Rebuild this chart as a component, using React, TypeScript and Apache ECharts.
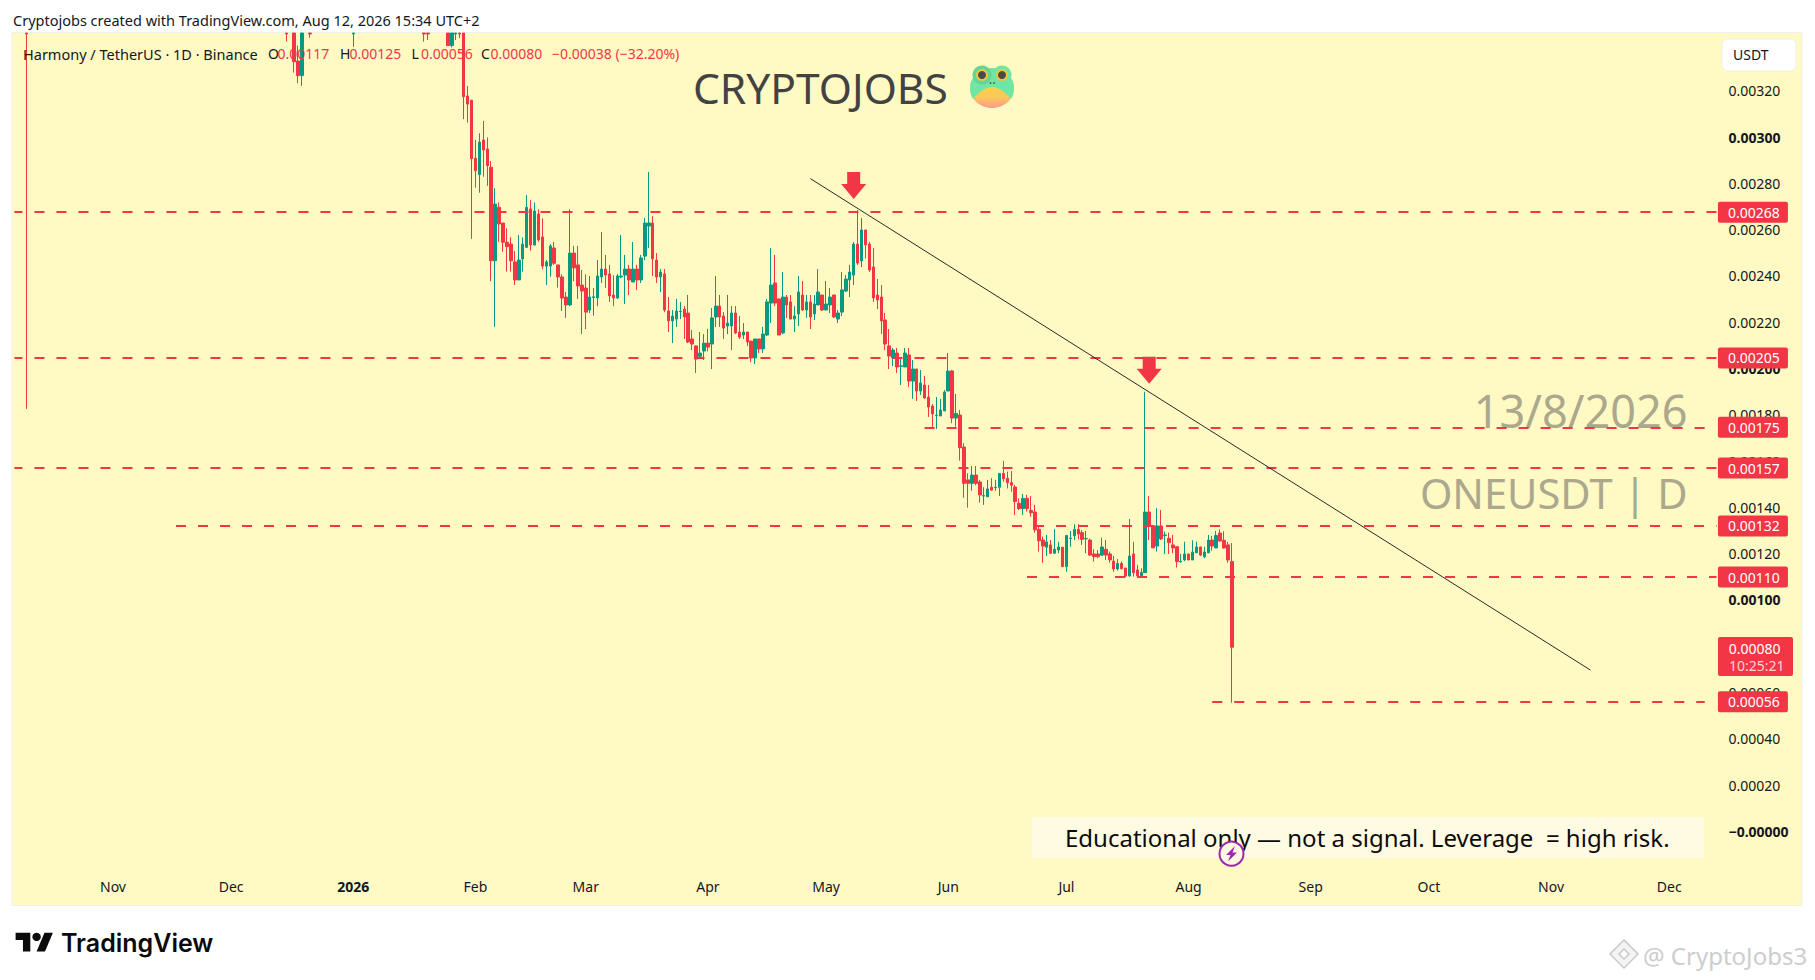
import React, { useEffect, useRef } from "react";
import * as echarts from "echarts";

// Prices below are in units of 0.00001 USDT.
const startDate = Date.UTC(2025, 9, 7);
const dayCount = 433;

// Candles of which only a piece reaches into the visible range: date, open, high, low, close
const earlyCandles: [string, number, number, number, number][] = [
  ["2025-10-10", 345.4, 345.4, 183, 345],
  ["2025-12-15", 345.4, 345.4, 341.7, 345],
  ["2025-12-17", 345.4, 345.4, 328.3, 333],
  ["2025-12-18", 333.3, 340, 323.7, 327],
  ["2025-12-19", 327, 345.4, 322.6, 345.4],
  ["2025-12-21", 345.4, 345.4, 343.4, 345],
  ["2026-01-01", 345, 345.4, 339.5, 345.4],
  ["2026-01-19", 345.4, 345.4, 341.7, 345],
  ["2026-01-20", 345.4, 345.4, 342.4, 345],
  ["2026-01-25", 345.4, 345.4, 339.9, 340],
  ["2026-01-26", 340, 345.4, 339.2, 345.4],
  ["2026-01-27", 345, 345.4, 342.4, 345.4],
  ["2026-01-28", 345.4, 345.4, 343.2, 345],
];

const mainFirstDate = "2026-01-29";
// open, high, low, close, one row a day
const dailyOHLC: number[][] = [
  [345.4, 345.4, 308.2, 317.9], [318.2, 322.5, 306.7, 314.7], [316.4, 316.4, 256.5, 291.1], [291.3, 299.2, 278.6, 285.9],
  [284.2, 302.1, 276.4, 298.3], [299.2, 307.4, 283.3, 294.9], [295.3, 300.3, 279.4, 288.1], [287.4, 290.1, 238.2, 247],
  [247, 278.3, 218.5, 271.5], [270.1, 272.2, 255.2, 262.9], [263.3, 263.3, 250.9, 255], [255, 261, 242.3, 253.1],
  [254.2, 257.1, 242.3, 247], [246.5, 251.2, 236.5, 238.7], [238.7, 258.1, 238.7, 247.3], [247.8, 257.1, 242.3, 254.2],
  [252.8, 275.4, 252.5, 270.1], [269.4, 273.2, 251.4, 253.8], [253.8, 272.2, 253.5, 268.5], [267.2, 269.2, 255.2, 256],
  [257.3, 265.3, 243.3, 244.7], [244.7, 247.3, 236.5, 246.5], [244.7, 254.2, 240.1, 253.4], [252.5, 255.1, 245.2, 245.9],
  [245.2, 245.2, 235.4, 240], [240, 241.1, 225.3, 230.9], [231.3, 233.5, 222.3, 227.9], [227.9, 269.2, 227.4, 250.3],
  [250.3, 253.4, 238.2, 243.9], [245.2, 253.4, 230.5, 236.1], [236.5, 243, 215.3, 233.9], [235.2, 241.1, 217.5, 224.8],
  [225.7, 240.4, 224.4, 231.3], [231.1, 235.2, 223.3, 231.4], [230.9, 247.3, 227.4, 240.4], [240, 259.4, 237.4, 243.4],
  [243.4, 249.5, 235.2, 240.8], [241.3, 245.2, 229.2, 231.8], [232.2, 240.7, 227.4, 230.9], [230.9, 241.3, 230.5, 240.4],
  [240, 258.1, 239.4, 240.4], [240.8, 249.5, 228.3, 243.4], [243.4, 245.2, 232.2, 238.7], [237.8, 255.1, 237.8, 243.4],
  [243.4, 245.2, 234.4, 238.7], [238.7, 249.5, 237.4, 248.2], [249, 265.5, 247.3, 263.3], [262, 285.4, 252.5, 263.3],
  [263.3, 266.3, 240.4, 247.8], [247.3, 250.3, 237.4, 240], [240, 243.4, 233.5, 242.1], [241.3, 243.4, 224.8, 225.7],
  [225.3, 231.3, 216.2, 221], [221, 225.7, 211.4, 223.1], [221.8, 230.5, 218.4, 225.3], [225, 229.2, 221.8, 225.2],
  [226.1, 227.4, 213.2, 222.7], [224.4, 232.2, 211.4, 211.9], [213.2, 217.1, 208.4, 211], [210.2, 210.2, 198.5, 204.5],
  [205.7, 216.2, 204.5, 207.1], [208, 215.3, 204.1, 211.4], [211.4, 217.5, 207.9, 209.7], [211, 226.6, 200.2, 222.3],
  [222.7, 240.4, 218.4, 227.4], [227.4, 232.2, 218.4, 222.7], [223.1, 224.8, 213.2, 217.9], [218.8, 232.2, 215.3, 220.1],
  [218.8, 227.4, 208.4, 224.4], [224.4, 227.4, 215.3, 215.8], [216.2, 223.1, 213.2, 214], [214.9, 220.1, 213.2, 216.2],
  [216.2, 216.2, 210.2, 211.9], [212.3, 212.3, 203.2, 205], [205, 213.2, 202.4, 213.2], [213.2, 213.2, 207.1, 208.9],
  [208.9, 218.4, 207.1, 215.3], [214.9, 230.5, 214.5, 229.2], [228.7, 252.5, 220.1, 236.5], [237.4, 249.5, 227.4, 228.7],
  [230.5, 230.5, 214.9, 214.9], [215.8, 242.1, 215.3, 231.3], [231.3, 232.2, 222.3, 227.9], [229.2, 232.2, 221.8, 221.8],
  [221.8, 227.4, 216.2, 223.1], [224, 240.4, 218.8, 233.5], [232.2, 238.2, 225.3, 225.7], [225.7, 232.2, 222.3, 229.2],
  [229.2, 232.2, 217.5, 222.7], [224, 232.2, 221.4, 228.3], [227.9, 243.4, 227.9, 233.5], [232.2, 232.2, 225.3, 225.7],
  [225.7, 238.2, 225.7, 228.3], [227.9, 235.2, 224.4, 231.3], [232.2, 232.2, 222.3, 222.7], [221.8, 225.7, 220.1, 224.4],
  [224.8, 242.1, 223.1, 234.4], [233.9, 240.8, 233.5, 239.1], [238.7, 245.2, 231.3, 242.1], [240.8, 255.1, 236.5, 254.2],
  [254.2, 268.9, 245.2, 246], [246.9, 265.5, 244.3, 260.3], [260.3, 260.3, 248, 253.8], [254.2, 255.1, 242.1, 243],
  [244.3, 252.5, 229.2, 230.9], [232.2, 239.1, 226.1, 230], [231.3, 236.5, 215.3, 221], [221.4, 224.4, 208.4, 211],
  [210.2, 217.5, 200.2, 205.8], [205, 209.3, 201.5, 208.4], [207.1, 209.3, 198.5, 201.1], [201.4, 205, 193.3, 201.6],
  [201.1, 209.3, 201.1, 207.1], [206.3, 209.3, 192.4, 195], [195, 204.1, 187.3, 200.2], [200.2, 200.2, 186.4, 190.7],
  [190.7, 199.8, 189, 194.2], [193.3, 197.2, 187.3, 187.7], [188.1, 193.3, 179.5, 183.8], [184.2, 185.1, 174.3, 180.8],
  [180.1, 188.1, 174.3, 180.3], [179.9, 187.3, 179.9, 182.5], [182.1, 191.1, 182.1, 190.3], [190.7, 207.1, 190.7, 199.3],
  [199.4, 199.8, 176.8, 179], [179, 189.4, 175.3, 181], [180.3, 182.5, 160.6, 166.2], [166.5, 168.1, 144.6, 150.8],
  [152.3, 155.1, 140.3, 150.8], [150.8, 158.3, 147.6, 154.4], [154.4, 158.3, 150, 150.8], [151.4, 152.3, 142.5, 145.8],
  [145.3, 149.1, 141.5, 145.5], [145, 152.3, 145, 148.4], [149.1, 153, 147.6, 147.9], [148.9, 152.3, 147.6, 149.1],
  [149.1, 155.1, 145.3, 155.1], [155.1, 160.5, 151.5, 152.8], [153, 155.9, 148.6, 151.1], [151.1, 156.1, 147.2, 150],
  [149.2, 150.1, 137.1, 142.9], [142.2, 144.3, 139.3, 139.9], [139.9, 146.2, 137.1, 144.3], [144.3, 145.8, 138.6, 139.9],
  [139.1, 145.3, 136.4, 138.1], [138.4, 141.5, 129.5, 130.7], [130.9, 132.8, 121.3, 126], [126.3, 127.8, 116.5, 123.7],
  [123.2, 128.5, 119.4, 125.5], [124.2, 126.3, 120.3, 120.6], [120.6, 130.9, 120.3, 122.3], [122, 125.5, 120.6, 123.3],
  [123.2, 123.2, 114.8, 114.8], [114.8, 128.5, 112.6, 128.3], [126.9, 130.2, 123.4, 127.1], [128.2, 133.1, 126.3, 130.9],
  [130.9, 133.1, 126.6, 128.9], [129.5, 130.6, 124.2, 126.6], [126.8, 130.2, 120.6, 127], [126.3, 126.9, 119.4, 119.8],
  [120.3, 122.3, 117, 119.1], [120.3, 122, 118.4, 119.1], [119.8, 127.3, 119.4, 123.3], [122.3, 126.3, 117.7, 119.8],
  [120.3, 121.3, 116.5, 117.7], [117.2, 119.4, 112.6, 113.8], [113.8, 118.1, 113.1, 116.2], [116.2, 117, 113.6, 113.9],
  [114.2, 114.2, 110.2, 110.8], [110.8, 135.4, 110.5, 119.4], [120.3, 125.5, 110.5, 112.2], [113.4, 115.5, 110.5, 110.8],
  [110.8, 114.1, 110.5, 112.3], [112.2, 190.4, 112.2, 138.4], [138.4, 145.3, 126.3, 132.4], [132.5, 132.5, 122.9, 122.9],
  [123.7, 140, 121.3, 132.4], [132.4, 139.3, 126.3, 126.8], [128.3, 129.9, 120.3, 128.5], [127, 129.5, 120.3, 125.2],
  [124.2, 128.5, 120.6, 122.9], [123.4, 123.4, 114.4, 117], [116.9, 120.3, 116.5, 117.1], [117.7, 125.6, 117.2, 120.3],
  [120.3, 120.3, 117.7, 117.7], [117.7, 126.2, 117.7, 121.1], [120.8, 125.6, 120.6, 123.3], [123.3, 123.4, 119.4, 119.8],
  [119.1, 123.4, 118.4, 121.1], [120.8, 128.5, 120.6, 126.3], [126.3, 128.1, 121.7, 123.7], [122.9, 130.2, 122.9, 128.3],
  [129.3, 130.9, 125.6, 125.9], [126.2, 130.1, 122.6, 122.9], [124.2, 125.5, 116.5, 117.7], [117, 125, 56, 80],
];

const priceTicks = [0, 20, 40, 60, 80, 100, 120, 140, 160, 180, 200, 220, 240, 260, 280, 300, 320];
const boldTicks = [0, 100, 200, 300];
const monthTicks: Record<string, string> = {
  "2025-11-01": "Nov", "2025-12-01": "Dec", "2026-01-01": "2026", "2026-02-01": "Feb", "2026-03-01": "Mar",
  "2026-04-01": "Apr", "2026-05-01": "May", "2026-06-01": "Jun", "2026-07-01": "Jul", "2026-08-01": "Aug",
  "2026-09-01": "Sep", "2026-10-01": "Oct", "2026-11-01": "Nov", "2026-12-01": "Dec",
};
// price level, date where its dashed line starts, date where it ends
const levelLines: [number, string, string][] = [
  [268, "2025-10-07", "2026-12-13"],
  [205, "2025-10-07", "2026-12-13"],
  [175, "2026-05-26", "2026-12-13"],
  [157.4, "2025-10-07", "2026-12-13"],
  [132.4, "2025-11-17", "2026-12-13"],
  [110.3, "2026-06-21", "2026-12-13"],
  [56.4, "2026-08-07", "2026-12-10"],
];
const trendLine: [string, number, string, number] = ["2026-04-27", 282.5, "2026-11-11", 70.1];
const arrowMarks: [string, number][] = [["2026-05-08", 279.5], ["2026-07-22", 199.65]];

const FONT = "'Noto Sans', sans-serif";
const INK = "#131722";
const RED = "#F23645";
const GREEN = "#089981";
const BG = "#FFF9C4";

const dayName = (i: number) => new Date(startDate + i * 86400000).toISOString().slice(0, 10);
const toPrice = (v: number) => v / 100000;

function buildOption() {
  const categories = Array.from({ length: dayCount }, (_, i) => dayName(i));
  const mainStart = categories.indexOf(mainFirstDate);
  const candles: any[] = categories.map(() => "-");
  earlyCandles.forEach(([d, o, h, l, c]) => {
    candles[categories.indexOf(d)] = [toPrice(o), toPrice(c), toPrice(l), toPrice(h)];
  });
  dailyOHLC.forEach(([o, h, l, c], i) => {
    candles[mainStart + i] = [toPrice(o), toPrice(c), toPrice(l), toPrice(h)];
  });

  const dashed = levelLines.map(([v, from, to]) => {
    const gap = to === "2026-12-13" ? 1.4 : 13.2;
    const label = {
      show: true,
      position: "end",
      distance: gap,
      formatter: toPrice(v).toFixed(5),
      color: "#fff",
      fontFamily: FONT,
      fontSize: 14,
      backgroundColor: RED,
      borderRadius: 2,
      padding: [0, 6, 0, 10],
      width: 54,
      height: 21,
      lineHeight: 21,
      align: "left",
      verticalAlign: "middle",
    };
    const lineStyle = { color: RED, width: 1.8, type: [10, 12], dashOffset: from === "2025-10-07" ? 2 : 0 };
    return [
      { coord: [from, toPrice(v)], lineStyle, label },
      { coord: [to, toPrice(v)], lineStyle, label },
    ];
  });
  const trendStyle = { color: "#2A2A2A", width: 1, type: "solid" };
  const trend = [
    { coord: [trendLine[0], toPrice(trendLine[1])], lineStyle: trendStyle, label: { show: false } },
    { coord: [trendLine[2], toPrice(trendLine[3])], lineStyle: trendStyle, label: { show: false } },
  ];

  const text = (x: number, y: number, t: string, fontSize: number, fill: string, extra: any = {}, z = 10) => ({
    type: "text",
    x,
    y,
    z,
    silent: true,
    style: { text: t, fontSize, fontFamily: FONT, fill, textVerticalAlign: "middle", verticalAlign: "middle", ...extra },
  });

  const headerPairs: [number, string, string][] = [
    [268, "O", "0.00117"],
    [340, "H", "0.00125"],
    [411.5, "L", "0.00056"],
    [481, "C", "0.00080"],
  ];

  const graphic: any[] = [
    { type: "rect", z: -5, silent: true, shape: { x: 12, y: 32.5, width: 1790, height: 873 }, style: { fill: BG, stroke: "#EFEFEF", lineWidth: 1 } },
    text(13, 19.5, "Cryptojobs created with TradingView.com, Aug 12, 2026 15:34 UTC+2", 14.5, INK),
    text(23, 53.5, "Harmony / TetherUS · 1D · Binance", 14.5, INK),
    ...headerPairs.flatMap(([x, k, v]) => [text(x, 53.5, k, 14, INK), text(x + 9.5, 53.5, v, 14, RED)]),
    text(552, 53.5, "−0.00038 (−32.20%)", 14, RED),
    text(693, 87, "CRYPTOJOBS", 42.5, "#424242"),
    // frog face
    { type: "ellipse", z: 10, silent: true, shape: { cx: 992, cy: 88, rx: 22, ry: 20 }, style: { fill: { type: "linear", x: 0, y: 0, x2: 0, y2: 1, colorStops: [{ offset: 0.45, color: "#F9D348" }, { offset: 0.72, color: "#FBC958" }, { offset: 1, color: "#FB9A8E" }] } } },
    { type: "frogTop", z: 11, silent: true, style: { fill: "#6FE6A6" } },
    { type: "circle", z: 11, silent: true, shape: { cx: 982, cy: 75, r: 9.5 }, style: { fill: "#62D597" } },
    { type: "circle", z: 11, silent: true, shape: { cx: 1002, cy: 75, r: 9.5 }, style: { fill: "#6FE6A6" } },
    { type: "circle", z: 12, silent: true, shape: { cx: 982, cy: 75, r: 6 }, style: { fill: "#EFC63D" } },
    { type: "circle", z: 12, silent: true, shape: { cx: 1002, cy: 75, r: 6 }, style: { fill: "#EFC63D" } },
    { type: "circle", z: 13, silent: true, shape: { cx: 982, cy: 75, r: 4 }, style: { fill: "#4A4A4A" } },
    { type: "circle", z: 13, silent: true, shape: { cx: 1002, cy: 75, r: 4 }, style: { fill: "#4A4A4A" } },
    { type: "circle", z: 13, silent: true, shape: { cx: 990.5, cy: 83, r: 0.8 }, style: { fill: "#3D5A45" } },
    { type: "circle", z: 13, silent: true, shape: { cx: 994, cy: 83, r: 0.8 }, style: { fill: "#3D5A45" } },

    text(1687.5, 410, "13/8/2026", 45, "#ABA88E", { align: "right" }, 0),
    text(1687.5, 492.5, "ONEUSDT | D", 41.6, "#ABA88E", { align: "right" }, 0),

    { type: "rect", z: 1, silent: true, shape: { x: 1032, y: 817, width: 672, height: 41 }, style: { fill: "#FFFBE2" } },
    text(1065, 837.5, "Educational only — not a signal. Leverage  = high risk.", 24, "#0B0B0B", {}, 1),
    { type: "circle", z: 20, silent: true, shape: { cx: 1231.5, cy: 853.7, r: 12 }, style: { fill: "#FFFBE2", stroke: "#9C27B0", lineWidth: 2 } },
    { type: "polygon", z: 21, silent: true, shape: { points: [[1235, 846], [1226, 855], [1230.5, 855], [1228, 861.5], [1237, 852.5], [1232.5, 852.5]] }, style: { fill: "#9C27B0" } },

    { type: "rect", z: 15, silent: true, shape: { x: 1722, y: 39, width: 74, height: 32, r: 6 }, style: { fill: "#fff", stroke: "#EFEFEF", lineWidth: 1 } },
    text(1733, 54.5, "USDT", 14, INK, {}, 16),

    { type: "rect", z: 40, silent: true, shape: { x: 1718, y: 637, width: 75, height: 39, r: 2 }, style: { fill: RED } },
    text(1728.7, 648, "0.00080", 14, "#fff", {}, 41),
    text(1729, 665, "10:25:21", 14, "#FFD3D7", {}, 41),

    // TradingView mark
    { type: "group", x: 15.6, y: 928.5, scaleX: 1.05, scaleY: 1.05, silent: true, children: [
      { type: "polygon", shape: { points: [[14, 22], [7, 22], [7, 11], [0, 11], [0, 4], [14, 4]] }, style: { fill: "#0B0B0B" } },
      { type: "polygon", shape: { points: [[28, 22], [20, 22], [27.5, 4], [35.5, 4]] }, style: { fill: "#0B0B0B" } },
      { type: "circle", shape: { cx: 20, cy: 8, r: 4 }, style: { fill: "#0B0B0B" } },
    ] },
    { type: "text", x: 61, y: 943, silent: true, style: { text: "TradingView", fontFamily: "Inter, sans-serif", fontWeight: 600, fontSize: 25, fill: "#0B0B0B", verticalAlign: "middle", textVerticalAlign: "middle" } },

    // watermark
    { type: "polygon", silent: true, shape: { points: [[1624, 940], [1638, 954], [1624, 968], [1610, 954]] }, style: { fill: "#F4F4F4", stroke: "#C9C9C9", lineWidth: 1.5 } },
    { type: "polygon", silent: true, shape: { points: [[1624, 949], [1629, 954], [1624, 959], [1619, 954]] }, style: { fill: "#fff", stroke: "#C9C9C9", lineWidth: 1.5 } },
    text(1643, 955, "@ CryptoJobs3", 24, "#CDCDCD", {}, 5),
  ];

  return {
    animation: false,
    backgroundColor: "#ffffff",
    graphic: { elements: graphic },
    grid: { left: 12.5, top: 33, width: 1706, height: 872, containLabel: false },
    xAxis: {
      type: "category",
      data: categories,
      boundaryGap: true,
      axisLine: { show: false },
      axisTick: { show: false },
      splitLine: { show: false },
      axisLabel: {
        inside: true,
        margin: 11.5,
        interval: (_: number, value: string) => monthTicks[value] != null,
        formatter: (value: string) => {
          const t = monthTicks[value] ?? "";
          return t === "2026" ? `{b|${t}}` : `{n|${t}}`;
        },
        rich: {
          n: { color: INK, fontFamily: FONT, fontSize: 14 },
          b: { color: INK, fontFamily: FONT, fontSize: 14, fontWeight: "bold" },
        },
      },
    },
    yAxis: {
      type: "value",
      position: "right",
      min: -0.00031417,
      max: 0.00345419,
      axisLine: { show: false },
      axisTick: { show: false },
      splitLine: { show: false },
      axisLabel: {
        customValues: priceTicks.map(toPrice),
        margin: 10,
        align: "left",
        padding: [0, 0, 2, 0],
        showMinLabel: true,
        showMaxLabel: true,
        formatter: (value: number) => {
          const units = Math.round(value * 100000);
          const t = units === 0 ? "−0.00000" : value.toFixed(5);
          return boldTicks.includes(units) ? `{b|${t}}` : `{n|${t}}`;
        },
        rich: {
          n: { color: INK, fontFamily: FONT, fontSize: 14 },
          b: { color: INK, fontFamily: FONT, fontSize: 14, fontWeight: "bold" },
        },
      },
    },
    series: [
      {
        type: "candlestick",
        clip: true,
        data: candles,
        barWidth: 3,
        itemStyle: { color: GREEN, color0: RED, borderColor: GREEN, borderColor0: RED, borderColorDoji: GREEN, borderWidth: 1 },
        markLine: {
          silent: true,
          symbol: ["none", "none"],
          animation: false,
          data: [...dashed, trend],
        },
        markPoint: {
          silent: true,
          animation: false,
          symbol: "path://M6,0 H19 V12 H25 L12.5,27 L0,12 H6 Z",
          symbolSize: [25, 27],
          itemStyle: { color: RED },
          label: { show: false },
          data: arrowMarks.map(([d, v]) => ({ coord: [d, toPrice(v)] })),
        },
      },
    ],
  };
}

export default function App() {
  const ref = useRef<HTMLDivElement>(null);
  useEffect(() => {
    document.body.style.margin = "0";
    document.body.style.background = "#fff";
    echarts.graphic.registerShape(
      "frogTop",
      echarts.graphic.extendPath("M970,88 A22,20 0 0 1 1014,88 C1014,92 1013,96 1011,99 C1006,93 999,87 992,87 C985,87 978,93 973,99 C971,96 970,92 970,88 Z", {})
    );
    const chart = echarts.init(ref.current!, undefined, { renderer: "svg" });
    chart.setOption(buildOption() as any);
    return () => chart.dispose();
  }, []);
  return <div ref={ref} style={{ position: "absolute", left: 0, top: 0, width: 1815, height: 980, overflow: "hidden" }} />;
}
